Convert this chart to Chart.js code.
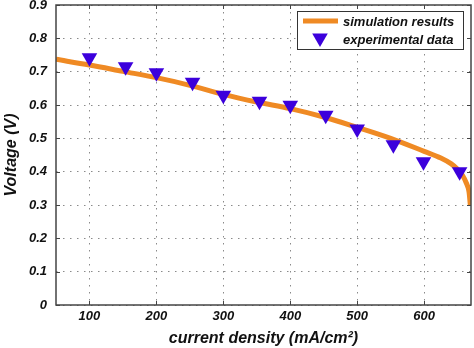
<!DOCTYPE html>
<html>
<head>
<meta charset="utf-8">
<script src="https://cdn.jsdelivr.net/npm/chart.js@4/dist/chart.umd.min.js"></script>
<style>
  html, body { margin: 0; padding: 0; background: #fff; }
  #wrap { width: 474px; height: 348px; }
</style>
</head>
<body>
<div id="wrap"><canvas id="c" width="474" height="348"></canvas></div>
<script>
// ---- data ----
const simCurrent = [50, 100, 150, 200, 250, 300, 350, 400, 450, 500, 550, 600, 625, 640, 650, 657, 663, 667, 669];
const simVoltage = [0.737, 0.720, 0.701, 0.682, 0.659, 0.632, 0.609, 0.589, 0.564, 0.533, 0.500, 0.461, 0.441, 0.424, 0.407, 0.390, 0.366, 0.340, 0.300];

const expCurrent = [100, 154, 200, 254, 300, 354, 400, 453, 500, 554, 599, 653];
const expVoltage = [0.742, 0.715, 0.697, 0.668, 0.629, 0.611, 0.599, 0.569, 0.528, 0.481, 0.430, 0.400];

const xTicks = [100, 200, 300, 400, 500, 600];
const yTicks = [0, 0.1, 0.2, 0.3, 0.4, 0.5, 0.6, 0.7, 0.8, 0.9];

const seriesNames = ['simulation results', 'experimental data'];
const orange = '#ef8a24';
const blue = '#3c00dc';
const boldItalic = (s) => ({ family: '"Liberation Sans", Arial, sans-serif', size: s, weight: 'bold', style: 'italic' });

const boxPlugin = {
  id: 'boxPlugin',
  afterDatasetsDraw(chart) {
    const { ctx, chartArea: a, scales } = chart;
    ctx.save();
    ctx.strokeStyle = '#444';
    ctx.lineWidth = 1.5;
    ctx.setLineDash([]);
    ctx.strokeRect(a.left, a.top, a.right - a.left, a.bottom - a.top);
    // inner tick marks
    ctx.lineWidth = 1;
    const tl = 4;
    ctx.beginPath();
    xTicks.forEach(v => {
      const x = Math.round(scales.x.getPixelForValue(v)) + 0.5;
      ctx.moveTo(x, a.bottom); ctx.lineTo(x, a.bottom - tl);
      ctx.moveTo(x, a.top); ctx.lineTo(x, a.top + tl);
    });
    yTicks.forEach(v => {
      const y = Math.round(scales.y.getPixelForValue(v)) + 0.5;
      ctx.moveTo(a.left, y); ctx.lineTo(a.left + tl, y);
      ctx.moveTo(a.right, y); ctx.lineTo(a.right - tl, y);
    });
    ctx.stroke();

    // legend box
    const lx = 297, ly = 11, lw = 166, lh = 38;
    ctx.fillStyle = '#fff';
    ctx.fillRect(lx, ly, lw, lh);
    ctx.strokeStyle = '#333';
    ctx.lineWidth = 1;
    ctx.strokeRect(lx + 0.5, ly + 0.5, lw, lh);
    // line sample
    ctx.strokeStyle = orange;
    ctx.lineWidth = 5;
    ctx.beginPath();
    ctx.moveTo(303, 21); ctx.lineTo(338, 21);
    ctx.stroke();
    // triangle sample
    ctx.fillStyle = blue;
    const tx = 320, ty = 38, r = 9;
    ctx.beginPath();
    ctx.moveTo(tx, ty + r);
    ctx.lineTo(tx - r * Math.sin(Math.PI / 3), ty - r / 2);
    ctx.lineTo(tx + r * Math.sin(Math.PI / 3), ty - r / 2);
    ctx.closePath();
    ctx.fill();
    // text
    ctx.fillStyle = '#111';
    ctx.font = 'italic bold 13px "Liberation Sans", Arial, sans-serif';
    ctx.textBaseline = 'middle';
    ctx.textAlign = 'left';
    ctx.fillText(seriesNames[0], 343, 22);
    ctx.fillText(seriesNames[1], 343, 40);
    ctx.restore();
  }
};

new Chart(document.getElementById('c'), {
  type: 'scatter',
  data: {
    datasets: [
      {
        label: seriesNames[0],
        data: simCurrent.map((x, i) => ({ x, y: simVoltage[i] })),
        showLine: true,
        borderColor: orange,
        borderWidth: 5,
        pointRadius: 0,
        tension: 0.4,
        cubicInterpolationMode: 'monotone',
        order: 1
      },
      {
        label: seriesNames[1],
        data: expCurrent.map((x, i) => ({ x, y: expVoltage[i] })),
        showLine: false,
        pointStyle: 'triangle',
        rotation: 180,
        pointRadius: 9,
        backgroundColor: blue,
        borderWidth: 0,
        order: 0
      }
    ]
  },
  options: {
    responsive: false,
    animation: false,
    devicePixelRatio: 1,
    layout: { autoPadding: false, padding: { top: 5, right: 3, left: 0, bottom: 0 } },
    plugins: { legend: { display: false }, tooltip: { enabled: false } },
    scales: {
      x: {
        type: 'linear',
        min: 50,
        max: 670,
        afterBuildTicks: (s) => { s.ticks = xTicks.map(v => ({ value: v })); },
        afterFit: (s) => { s.height = 43; s.paddingLeft = 0; s.paddingRight = 0; },
        ticks: { color: '#111', font: boldItalic(13), padding: 4, maxRotation: 0 },
        grid: { color: '#8a8a8a', lineWidth: 1, drawTicks: false },
        border: { display: false, dash: [1.5, 5.5] },
        title: { display: true, text: 'current density (mA/cm²)', color: '#111', font: boldItalic(16), padding: { top: 0, bottom: 0 } }
      },
      y: {
        min: 0,
        max: 0.9,
        afterBuildTicks: (s) => { s.ticks = yTicks.map(v => ({ value: v })); },
        afterFit: (s) => { s.width = 56; s.paddingTop = 0; s.paddingBottom = 0; },
        ticks: { color: '#111', font: boldItalic(13), padding: 9, callback: (v) => v === 0 ? '0' : v.toFixed(1) },
        grid: { color: '#8a8a8a', lineWidth: 1, drawTicks: false },
        border: { display: false, dash: [1.5, 5.5] },
        title: { display: true, text: 'Voltage (V)', color: '#111', font: boldItalic(16), padding: { top: 2, bottom: 0 } }
      }
    }
  },
  plugins: [boxPlugin]
});
</script>
</body>
</html>
